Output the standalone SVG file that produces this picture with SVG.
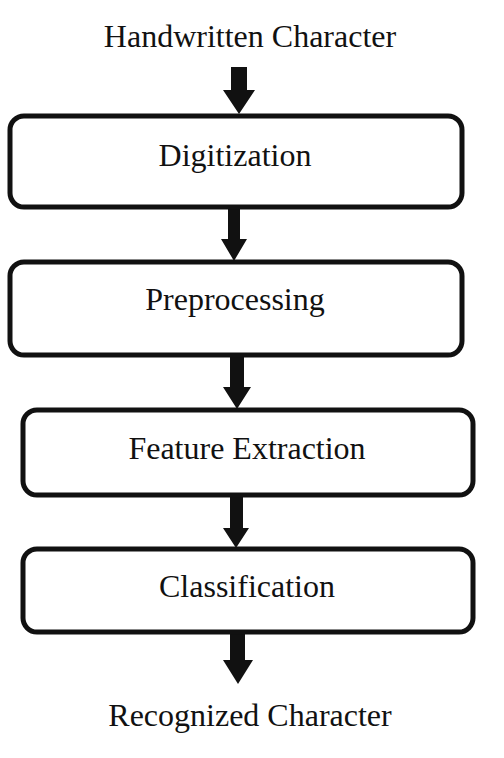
<svg xmlns="http://www.w3.org/2000/svg" width="504" height="758" viewBox="0 0 504 758">
<style>
.box{fill:#fff;stroke:#111;stroke-width:5}
.t{font-family:"Liberation Serif","Times New Roman",serif;font-size:32px;fill:#111;text-anchor:middle}
.arr{fill:#111;stroke:none}
</style>
<rect width="504" height="758" fill="#fff"/>
<g id="connectors">
<polygon class="arr" points="231,67 247,67 247,90 255,90 239,114 223,90 231,90"/>
<polygon class="arr" points="228,206 240,206 240,239 247,239 234,261 221,239 228,239"/>
<polygon class="arr" points="230,355 244,355 244,387 251,387 237,409 223,387 230,387"/>
<polygon class="arr" points="230,495 243,495 243,528 249,528 236,548 223,528 230,528"/>
<polygon class="arr" points="230,632 245,632 245,660 253,660 238,684 223,660 230,660"/>
</g>
<g id="start"><text class="t" x="250" y="47">Handwritten Character</text></g>
<g id="digitization"><rect class="box" x="10" y="116" width="452" height="91" rx="14"/><text class="t" x="235" y="166">Digitization</text></g>
<g id="preprocessing"><rect class="box" x="10" y="262" width="452" height="93" rx="14"/><text class="t" x="235" y="310">Preprocessing</text></g>
<g id="feature"><rect class="box" x="23" y="410" width="450" height="85" rx="14"/><text class="t" x="247" y="459">Feature Extraction</text></g>
<g id="classification"><rect class="box" x="23" y="549" width="450" height="83" rx="14"/><text class="t" x="247" y="597">Classification</text></g>
<g id="end"><text class="t" x="250" y="726">Recognized Character</text></g>
</svg>
